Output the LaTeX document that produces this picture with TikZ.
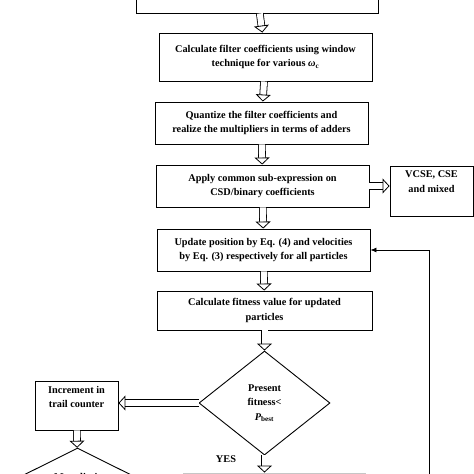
\documentclass[tikz,border=0pt]{standalone}
\usepackage{fontspec}
\setmainfont{Liberation Serif}
\usetikzlibrary{shapes.geometric,arrows.meta}

\begin{document}
\begin{tikzpicture}[
    x=1pt, y=-1pt,
    font=\bfseries\fontsize{10.3}{14.5}\selectfont,
    stepbox/.style={rectangle, draw, line width=0.9pt, align=center, inner sep=2pt},
    decision/.style={diamond, draw, line width=0.9pt, align=center, inner sep=0pt},
    hollow/.style={line width=0.8pt, double, double distance=6pt,
        -{Triangle[open, width=15pt, length=7pt]}},
    feedback/.style={line width=0.8pt, -{Latex[length=6pt, width=5pt]}}
]
\useasboundingbox (0,0) rectangle (474,474);
\clip (0,0) rectangle (474,474);

% main column
\node[stepbox, minimum width=242pt, minimum height=42pt] (init) at (257,-8) {};
\node[stepbox, minimum width=213pt, minimum height=48pt] (coef) at (265.5,57)
    {Calculate filter coefficients using window\\technique for various \textit{ω}\textsubscript{c}};
\node[stepbox, minimum width=213pt, minimum height=42pt] (quant) at (261.5,123)
    {Quantize the filter coefficients and\\realize the multipliers in terms of adders};
\node[stepbox, minimum width=213pt, minimum height=42pt] (cse) at (262.5,186)
    {Apply common sub-expression on\\CSD/binary coefficients};
\node[stepbox, minimum width=83pt, minimum height=50pt] (vcse) at (431.5,191)
    {VCSE, CSE\\and mixed\\[4pt]};
\node[stepbox, minimum width=213pt, minimum height=42pt] (update) at (263.5,250)
    {Update position by Eq. (4) and velocities\\by Eq. (3) respectively for all particles};
\node[stepbox, minimum width=215pt, minimum height=39pt] (fitness) at (264.5,310.5)
    {Calculate fitness value for updated\\particles};
\node[decision, minimum width=131pt, minimum height=104pt, aspect=1.26] (pbest) at (264.5,403)
    {Present\\fitness<\\\textit{P}\textsubscript{best}};
\node[stepbox, draw=gray!45, minimum width=182pt, minimum height=54pt] (next) at (274,500) {};

% left branch
\node[stepbox, minimum width=83pt, minimum height=49pt] (trail) at (76.5,405.5)
    {Increment in\\trail counter\\[3pt]};
\node[decision, minimum width=116pt, minimum height=58pt, aspect=2] (limit) at (77.5,477)
    {Max. limit};

\node (yes) at (226,459) {YES};
\node (no) at (160,479) {NO};
\coordinate (loop) at (429,520);

% arrows
\draw[hollow] (init) -- (coef);
\draw[hollow] (coef) -- (quant);
\draw[hollow] (quant) -- (cse);
\draw[hollow] (cse.east) -- (cse.east -| vcse.west);
\draw[hollow] (cse) -- (update);
\draw[hollow] (update) -- (fitness);
\draw[hollow] (fitness) -- (pbest);
\draw[hollow] (pbest.west) -- (trail.east |- pbest.west);
\draw[hollow] (pbest.south) -- (next.north -| pbest.south);
\draw[hollow] (trail) -- (limit);
\draw[feedback] (loop) |- (update.east);

\end{tikzpicture}
\end{document}
